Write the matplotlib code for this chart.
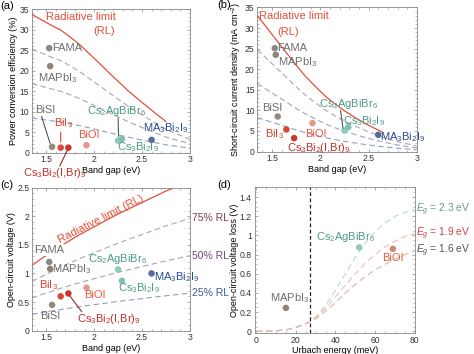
import numpy as np
import matplotlib
matplotlib.use('Agg')
import matplotlib.pyplot as plt
from matplotlib.ticker import FuncFormatter, MultipleLocator

plt.rcParams['font.family'] = ['Liberation Sans', 'DejaVu Sans']
plt.rcParams['mathtext.fontset'] = 'custom'
plt.rcParams['mathtext.rm'] = 'Liberation Sans'
plt.rcParams['mathtext.it'] = 'Liberation Sans:italic'
plt.rcParams['mathtext.bf'] = 'Liberation Sans:bold'

# ---- data ----
materials = ['FAMA', 'MAPbI3', 'BiSI', 'BiI3', 'Cs3Bi2(I,Br)9', 'BiOI',
             'Cs2AgBiBr6', 'Cs3Bi2I9', 'MA3Bi2I9']
band_gap = [1.53, 1.54, 1.56, 1.65, 1.73, 1.92, 2.25, 2.29, 2.60]
pce = [25.5, 21.1, 1.4, 1.2, 1.2, 1.8, 2.9, 3.3, 3.1]
jsc = [25.1, 23.5, 8.5, 5.35, 3.25, 6.9, 5.1, 5.9, 4.05]
voc = [1.20, 1.08, 0.45, 0.60, 0.65, 0.75, 1.07, 0.87, 1.00]

# radiative limit curves
rl_eg = [1.35, 1.45, 1.55, 1.65, 1.75, 1.85, 1.95, 2.05, 2.15, 2.25, 2.35,
         2.45, 2.55, 2.65, 2.75, 2.85, 3.0]
rl_pce = [33.7, 32.4, 31.1, 29.9, 28.2, 26.3, 24.1, 21.9, 19.6, 17.4, 15.2,
          13.2, 11.3, 9.4, 7.6, 6.2, 4.4]
rl_jsc = [33.0, 30.0, 27.0, 24.0, 21.0, 18.2, 15.8, 13.5, 11.6, 9.9, 8.4,
          7.0, 5.8, 4.6, 3.6, 2.8, 1.8]
rl_voc = [1.14, 1.26, 1.37, 1.48, 1.58, 1.68, 1.77, 1.86, 1.95, 2.04, 2.12,
          2.20, 2.28, 2.36, 2.44, 2.51, 2.62]
rl_fracs = [0.75, 0.5, 0.25]
rl_frac_labels = ['75% RL', '50% RL', '25% RL']

# panel (d)
urbach = [0, 5, 10, 15, 20, 25, 27, 30, 35, 40, 45, 50, 55, 60, 65, 70, 75, 80]
loss_23 = [0, 0.002, 0.006, 0.015, 0.04, 0.08, 0.10, 0.15, 0.27, 0.43, 0.60,
           0.77, 0.92, 1.04, 1.13, 1.20, 1.24, 1.27]
loss_19 = [0, 0.002, 0.006, 0.015, 0.04, 0.08, 0.10, 0.14, 0.24, 0.36, 0.48,
           0.60, 0.71, 0.80, 0.88, 0.94, 0.99, 1.02]
loss_16 = [0, 0.002, 0.006, 0.015, 0.04, 0.08, 0.10, 0.13, 0.21, 0.30, 0.40,
           0.49, 0.57, 0.64, 0.70, 0.75, 0.80, 0.84]
d_names = ['MAPbI3', 'Cs2AgBiBr6', 'BiOI']
d_urbach = [15, 52, 69]
d_loss = [0.245, 0.875, 0.86]
kT_line = 27

# ---- styles ----
marker_col = {'FAMA': '#8a8a84', 'MAPbI3': '#8e8478', 'BiSI': '#958a80',
              'BiI3': '#d9473a', 'Cs3Bi2(I,Br)9': '#c8382c', 'BiOI': '#e39a8c',
              'Cs2AgBiBr6': '#8fc8b8', 'Cs3Bi2I9': '#80c0b0', 'MA3Bi2I9': '#5a6a9a'}
text_col = {'FAMA': '#6e6e6e', 'MAPbI3': '#6e6e6e', 'BiSI': '#6e6e6e',
            'BiI3': '#e0402e', 'Cs3Bi2(I,Br)9': '#c0302a', 'BiOI': '#e85a40',
            'Cs2AgBiBr6': '#4e9a86', 'Cs3Bi2I9': '#4e9a86', 'MA3Bi2I9': '#2a4a94'}
tex = {'FAMA': 'FAMA', 'MAPbI3': r'MAPbI$_3$', 'BiSI': 'BiSI', 'BiI3': r'BiI$_3$',
       'Cs3Bi2(I,Br)9': r'Cs$_3$Bi$_2$(I,Br)$_9$', 'BiOI': 'BiOI',
       'Cs2AgBiBr6': r'Cs$_2$AgBiBr$_6$', 'Cs3Bi2I9': r'Cs$_3$Bi$_2$I$_9$',
       'MA3Bi2I9': r'MA$_3$Bi$_2$I$_9$'}
red = '#e0503c'
dash_cols = ['#b8a0b4', '#a4a2bf', '#8ea0c8']
frac_text_cols = ['#8b3b50', '#6b4b75', '#3a5aa0']
fs = 8

fmt = FuncFormatter(lambda v, p: '%g' % v)


def frame(ax):
    for s in ax.spines.values():
        s.set_color('#888888')
        s.set_linewidth(0.6)
    ax.tick_params(which='both', direction='in', top=True, right=True,
                   color='#888888', labelsize=6.2, pad=2, labelcolor='#333333')
    ax.tick_params(which='major', length=2.2, width=0.5)
    ax.tick_params(which='minor', length=1.2, width=0.4)
    ax.xaxis.set_major_formatter(fmt)
    ax.yaxis.set_major_formatter(fmt)


def link(ax, p1, p2, col):
    ax.annotate('', xy=p1, xytext=p2, annotation_clip=False,
                arrowprops=dict(arrowstyle='-', color=col, lw=0.8,
                                shrinkA=0, shrinkB=0))


def label(ax, name, x, y, ha='center', **kw):
    ax.text(x, y, tex[name], color=text_col[name], fontsize=fs, ha=ha,
            va='center', clip_on=False, **kw)


fig = plt.figure(figsize=(4.74, 3.54), dpi=100)
ax_a = fig.add_axes([0.0675, 0.569, 0.333, 0.405])
ax_b = fig.add_axes([0.543, 0.572, 0.3365, 0.407])
ax_c = fig.add_axes([0.0675, 0.066, 0.333, 0.404])
ax_d = fig.add_axes([0.537, 0.0585, 0.338, 0.412])

cols = [marker_col[m] for m in materials]
ms = 22

# ---------- (a) ----------
ax = ax_a
ax.plot(rl_eg[:15], rl_pce[:15], color=red, lw=0.9)
for f, c in zip(rl_fracs, dash_cols):
    ax.plot(rl_eg, np.array(rl_pce) * f, color=c, lw=0.8, dashes=(5, 3))
ax.scatter(band_gap, pce, s=ms, c=cols, zorder=3, linewidths=0)
ax.set_xlim(1.35, 3.0)
ax.set_ylim(0, 35)
ax.xaxis.set_major_locator(MultipleLocator(0.5))
ax.yaxis.set_major_locator(MultipleLocator(5))
ax.xaxis.set_minor_locator(MultipleLocator(0.1))
ax.yaxis.set_minor_locator(MultipleLocator(1))
ax.set_xlabel('Band gap (eV)', fontsize=6.5, labelpad=1)
ax.set_ylabel('Power conversion efficiency (%)', fontsize=6.5, labelpad=1)
ax.text(1.86, 33.2, 'Radiative limit', color=red, fontsize=fs, ha='center', va='center')
ax.text(2.10, 29.8, '(RL)', color=red, fontsize=fs, ha='center', va='center')
label(ax, 'FAMA', 1.565, 25.6, ha='left')
label(ax, 'MAPbI3', 1.62, 18.2)
label(ax, 'BiSI', 1.49, 10.4)
link(ax, (1.45, 8.8), (1.54, 2.2), '#555555')
label(ax, 'BiI3', 1.68, 7.3)
link(ax, (1.65, 5.0), (1.65, 2.6), '#d9473a')
label(ax, 'BiOI', 1.94, 4.3)
label(ax, 'Cs2AgBiBr6', 2.23, 10.1)
link(ax, (2.25, 8.4), (2.255, 3.9), '#4e5e58')
label(ax, 'Cs3Bi2I9', 2.46, 1.3)
label(ax, 'MA3Bi2I9', 2.75, 6.0)
label(ax, 'Cs3Bi2(I,Br)9', 1.59, -4.9)
link(ax, (1.72, 0.6), (1.64, -3.3), '#a02820')

# ---------- (b) ----------
ax = ax_b
ax.plot(rl_eg[:14], rl_jsc[:14], color=red, lw=0.9)
for f, c in zip(rl_fracs, dash_cols):
    ax.plot(rl_eg, np.array(rl_jsc) * f, color=c, lw=0.8, dashes=(5, 3))
ax.scatter(band_gap, jsc, s=ms, c=cols, zorder=3, linewidths=0)
ax.set_xlim(1.35, 3.0)
ax.set_ylim(0, 35)
ax.xaxis.set_major_locator(MultipleLocator(0.5))
ax.yaxis.set_major_locator(MultipleLocator(5))
ax.xaxis.set_minor_locator(MultipleLocator(0.1))
ax.yaxis.set_minor_locator(MultipleLocator(1))
ax.set_xlabel('Band gap (eV)', fontsize=6.5, labelpad=1)
ax.set_ylabel('Short-circuit current density (mA cm$^{-2}$)', fontsize=6.5, labelpad=1)
ax.text(1.73, 32.8, 'Radiative limit', color=red, fontsize=fs, ha='center', va='center')
ax.text(1.67, 29.0, '(RL)', color=red, fontsize=fs, ha='center', va='center')
label(ax, 'FAMA', 1.555, 25.2, ha='left')
label(ax, 'MAPbI3', 1.56, 21.6, ha='left')
label(ax, 'BiSI', 1.50, 10.6)
label(ax, 'BiI3', 1.53, 4.3)
label(ax, 'BiOI', 1.955, 4.3)
label(ax, 'Cs3Bi2(I,Br)9', 1.99, 0.8)
label(ax, 'Cs2AgBiBr6', 2.29, 11.5)
link(ax, (2.21, 10.0), (2.235, 5.7), '#4e5e58')
label(ax, 'Cs3Bi2I9', 2.45, 7.5)
label(ax, 'MA3Bi2I9', 2.62, 3.6, ha='left')

# ---------- (c) ----------
ax = ax_c
ax.plot(rl_eg, rl_voc, color=red, lw=0.9)
for f, c, t, tc in zip(rl_fracs, dash_cols, rl_frac_labels, frac_text_cols):
    v = np.array(rl_voc) * f
    ax.plot(rl_eg, v, color=c, lw=0.8, dashes=(5, 3))
    ax.text(3.02, v[-1], t, color=tc, fontsize=7.5, ha='left', va='center', clip_on=False)
ax.scatter(band_gap, voc, s=ms, c=cols, zorder=3, linewidths=0)
ax.set_xlim(1.35, 3.0)
ax.set_ylim(0, 2.5)
ax.xaxis.set_major_locator(MultipleLocator(0.5))
ax.yaxis.set_major_locator(MultipleLocator(0.5))
ax.xaxis.set_minor_locator(MultipleLocator(0.1))
ax.yaxis.set_minor_locator(MultipleLocator(0.1))
ax.set_xlabel('Band gap (eV)', fontsize=6.5, labelpad=1)
ax.set_ylabel('Open-circuit voltage (V)', fontsize=6.5, labelpad=1)
ax.text(2.07, 1.95, 'Radiative limit (RL)', color=red, fontsize=fs, ha='center',
        va='center', rotation=27)
label(ax, 'FAMA', 1.53, 1.41, bbox=dict(fc='white', ec='none', pad=0.5))
label(ax, 'MAPbI3', 1.56, 1.07, ha='left')
label(ax, 'BiSI', 1.54, 0.25)
label(ax, 'BiI3', 1.52, 0.79)
label(ax, 'BiOI', 2.01, 0.62)
label(ax, 'Cs3Bi2(I,Br)9', 2.15, 0.21)
link(ax, (1.74, 0.62), (1.87, 0.33), '#a02820')
label(ax, 'Cs2AgBiBr6', 2.24, 1.26)
label(ax, 'Cs3Bi2I9', 2.47, 0.74)
label(ax, 'MA3Bi2I9', 2.63, 0.94, ha='left')

# ---------- (d) ----------
ax = ax_d
d_curves = [(loss_23, '#c0ddd6', r'$E_g$ = 2.3 eV', '#6a9a8a'),
            (loss_19, '#f0c4bc', r'$E_g$ = 1.9 eV', '#e04040'),
            (loss_16, '#d8bcb4', r'$E_g$ = 1.6 eV', '#555555')]
for yv, c, t, tc in d_curves:
    ax.plot(urbach, yv, color=c, lw=0.9, dashes=(5, 3))
    ax.text(80.8, yv[-1], t, color=tc, fontsize=7.4, ha='left', va='center', clip_on=False)
ax.axvline(kT_line, color='#222222', lw=0.9, dashes=(3, 2))
ax.scatter(d_urbach, d_loss, s=ms, c=['#8e8478', '#8fc8b8', '#d08878'], zorder=3, linewidths=0)
ax.set_xlim(-0.8, 80)
ax.set_ylim(-0.02, 1.5)
ax.xaxis.set_major_locator(MultipleLocator(20))
ax.yaxis.set_major_locator(MultipleLocator(0.2))
ax.xaxis.set_minor_locator(MultipleLocator(5))
ax.yaxis.set_minor_locator(MultipleLocator(0.05))
ax.set_xlabel('Urbach energy (meV)', fontsize=6.5, labelpad=1)
ax.set_ylabel('Open-circuit voltage loss (V)', fontsize=6.5)
ax.yaxis.set_label_coords(-0.095, 0.5)
ax.text(17.1, 0.345, r'MAPbI$_3$', color='#6e6e6e', fontsize=fs, ha='center', va='center')
ax.text(45.1, 0.985, r'Cs$_2$AgBiBr$_6$', color='#4e9a86', fontsize=fs, ha='center', va='center')
ax.text(69.1, 0.76, 'BiOI', color='#e85a40', fontsize=fs, ha='center', va='center')

for ax in (ax_a, ax_b, ax_c, ax_d):
    frame(ax)

fig.text(0.0, 0.983, '(a)', fontsize=8, va='center', ha='left')
fig.text(0.458, 0.986, '(b)', fontsize=8, va='center', ha='left')
fig.text(0.0, 0.477, '(c)', fontsize=8, va='center', ha='left')
fig.text(0.458, 0.477, '(d)', fontsize=8, va='center', ha='left')

fig.savefig('out.png', dpi=100)
